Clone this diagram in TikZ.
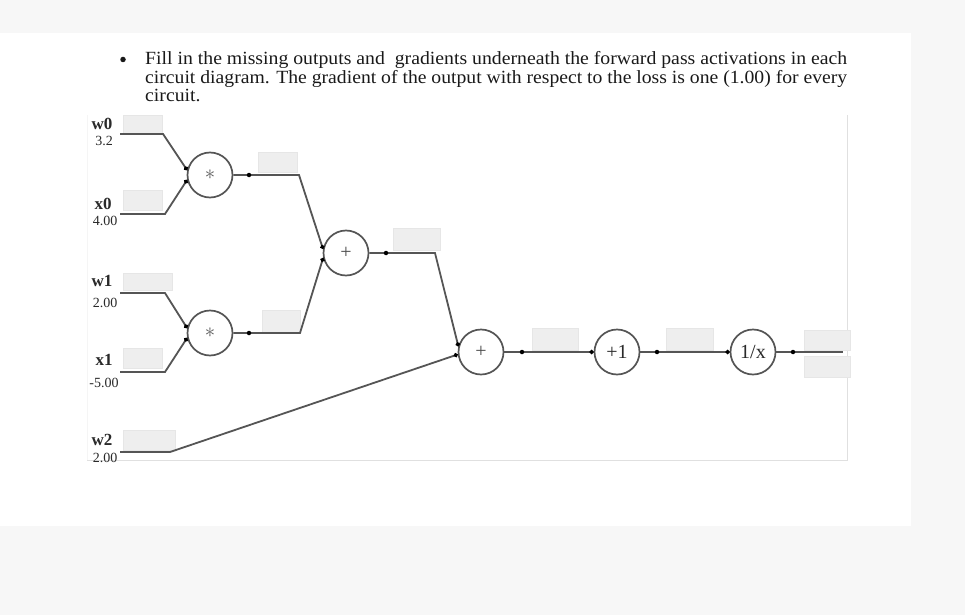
\documentclass[tikz,border=0pt]{standalone}
\usepackage{fontspec}
\setmainfont{Liberation Serif}
\usetikzlibrary{arrows.meta}
\definecolor{bgc}{HTML}{F7F7F7}
\definecolor{pagec}{HTML}{FFFFFF}
\definecolor{wirec}{HTML}{555555}
\definecolor{boxc}{HTML}{EEEEEE}
\definecolor{boxe}{HTML}{E6E6E6}
\definecolor{framec}{HTML}{E0E0E0}
\definecolor{textc}{HTML}{2A2A2A}
\newlength\lineonewd
\begin{document}
\settowidth\lineonewd{\fontsize{18.6}{18.6}\selectfont Fill in the missing outputs and~ gradients underneath the forward pass activations in each}%
\pgfmathsetmacro\tsx{702/\lineonewd}%
\begin{tikzpicture}[x=1pt,y=-1pt,
  wire/.style={draw=wirec, line width=1.8pt},
  inwire/.style={wire, -{Circle[length=4.2pt,color=black]}},
  gate/.style={circle, draw=wirec, line width=1.7pt, minimum size=45pt, inner sep=0pt, fill=white, text=textc},
  odot/.style={circle, fill=black, inner sep=0pt, minimum size=4.5pt},
  blank/.style={fill=boxc, draw=boxe, line width=0.4pt},
  namelab/.style={inner sep=0pt, text=textc, font=\bfseries\fontsize{17}{17}\selectfont},
  vallab/.style={inner sep=0pt, text=textc, font=\fontsize{14}{14}\selectfont},
  titletext/.style={inner sep=0pt, anchor=base west, text=black!90, font=\fontsize{18.6}{18.6}\selectfont}
]
\useasboundingbox (0,0) rectangle (965,615);
% background and page
\fill[bgc] (0,0) rectangle (965,615);
\fill[pagec] (0,33) rectangle (911,526);
% faint frame
\draw[framec, line width=0.9pt] (847,115) -- (847,460) -- (87,460);
\draw[black!4, line width=0.8pt] (87,115) -- (87,460);

% title
\node[circle, fill=black!90, inner sep=0pt, minimum size=5.5pt] (bul) at (123,59.5) {};
\node[titletext] (t1) at (145,65) {\scalebox{\tsx}[1]{Fill in the missing outputs and~ gradients underneath the forward pass activations in each}};
\node[titletext] (t2) at (145,83.5) {\resizebox{702pt}{\height}{circuit diagram. The gradient of the output with respect to the loss is one (1.00) for every}};
\node[titletext] (t3) at (145,102) {\scalebox{\tsx}[1]{circuit.}};

% blank answer boxes
\fill[blank] (123,115) rectangle (162,133);
\fill[blank] (123,190) rectangle (162,210);
\fill[blank] (123,273) rectangle (172,290);
\fill[blank] (123,348) rectangle (162,368);
\fill[blank] (123,430) rectangle (175,450);
\fill[blank] (258,152) rectangle (297,172);
\fill[blank] (262,310) rectangle (300,332);
\fill[blank] (393,228) rectangle (440,250);
\fill[blank] (532,328) rectangle (578,350);
\fill[blank] (666,328) rectangle (713,350);
\fill[blank] (804,330) rectangle (850,350);
\fill[blank] (804,356) rectangle (850,377);

% input labels
\node[namelab] (lw0) at (102,124) {w0};
\node[vallab]  (vw0) at (104,141) {3.2};
\node[namelab] (lx0) at (103,204) {x0};
\node[vallab]  (vx0) at (105,221) {4.00};
\node[namelab] (lw1) at (102,281) {w1};
\node[vallab]  (vw1) at (105,303) {2.00};
\node[namelab] (lx1) at (104,360) {x1};
\node[vallab]  (vx1) at (104,383) {-5.00};
\node[namelab] (lw2) at (102,440) {w2};
\node[vallab]  (vw2) at (105,458) {2.00};

% gates
\node[gate, font=\fontsize{22}{22}\selectfont] (m1) at (210,175) {\textcolor{black!65}{$\ast$}};
\node[gate, font=\fontsize{22}{22}\selectfont] (m2) at (210,333) {\textcolor{black!65}{$\ast$}};
\node[gate, font=\fontsize{20}{20}\selectfont] (a1) at (346,253) {\textcolor{black!70}{+}};
\node[gate, font=\fontsize{20}{20}\selectfont] (a2) at (481,352) {\textcolor{black!70}{+}};
\node[gate, font=\fontsize{20}{20}\selectfont] (p1) at (617,352) {+1};
\node[gate, font=\fontsize{20}{20}\selectfont] (inv) at (753,352) {1/x};

% coordinates
\coordinate (w0s) at (120,134); \coordinate (w0k) at (163,134);
\coordinate (x0s) at (120,214); \coordinate (x0k) at (165,214);
\coordinate (w1s) at (120,293); \coordinate (w1k) at (165,293);
\coordinate (x1s) at (120,372); \coordinate (x1k) at (165,372);
\coordinate (w2s) at (120,452); \coordinate (w2k) at (170,452);
\coordinate (m1o) at (249,175); \coordinate (m1k) at (299,175);
\coordinate (m2o) at (249,333); \coordinate (m2k) at (300,333);
\coordinate (a1o) at (386,253); \coordinate (a1k) at (435,253);
\coordinate (a2o) at (522,352);
\coordinate (p1o) at (657,352);
\coordinate (invo) at (793,352); \coordinate (fin) at (843,352);

% wires
\draw[inwire] (w0s) -- (w0k) -- (m1.168);
\draw[inwire] (x0s) -- (x0k) -- (m1.192);
\draw[inwire] (w1s) -- (w1k) -- (m2.168);
\draw[inwire] (x1s) -- (x1k) -- (m2.192);
\draw[inwire] (m1.east) -- (m1o) -- (m1k) -- (a1.170);
\draw[inwire] (m2.east) -- (m2o) -- (m2k) -- (a1.192);
\draw[inwire] (a1.east) -- (a1o) -- (a1k) -- (a2.166);
\draw[inwire] (w2s) -- (w2k) -- (a2.186);
\draw[inwire] (a2.east) -- (a2o) -- (p1.west);
\draw[inwire] (p1.east) -- (p1o) -- (inv.west);
\draw[wire] (inv.east) -- (invo) -- (fin);

% output dots
\foreach \c in {m1o,m2o,a1o,a2o,p1o,invo} \node[odot] at (\c) {};
\end{tikzpicture}
\end{document}
